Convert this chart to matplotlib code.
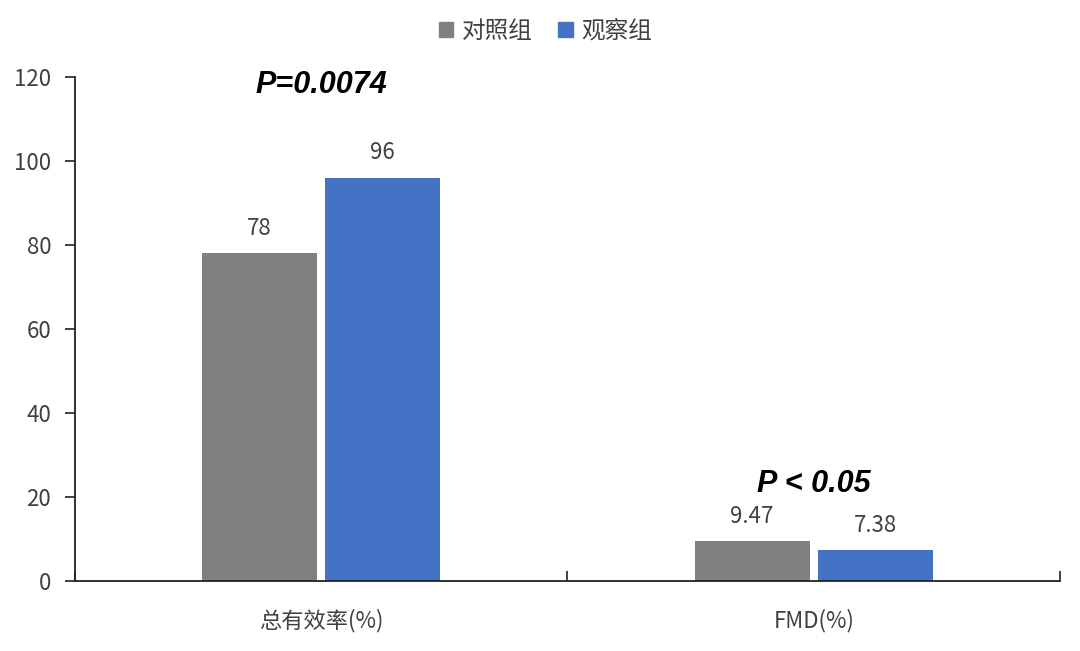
import numpy as np
import matplotlib
matplotlib.use("Agg")
import matplotlib.pyplot as plt
from matplotlib.patches import Patch

plt.rcParams['font.family'] = ['Noto Sans CJK SC', 'DejaVu Sans']

# データ
categories = ["总有效率(%)", "FMD(%)"]
series_names = ["对照组", "观察组"]
control_vals = [78, 9.47]
observe_vals = [96, 7.38]
value_text = [["78", "9.47"], ["96", "7.38"]]
p_texts = ["P=0.0074", "P < 0.05"]
p_heights = [116.2, 21.2]
y_ticks = [0, 20, 40, 60, 80, 100, 120]

colors = ["#808080", "#4472C4"]
text_color = "#404040"

fig = plt.figure(figsize=(10.8, 6.51), dpi=100)
ax = fig.add_axes([0.0694, 0.1075, 0.9121, 0.7742])

x = np.arange(len(categories))
w = 0.234
off = 0.125
for i, (vals, c) in enumerate(zip([control_vals, observe_vals], colors)):
    xs = x + (-off if i == 0 else off)
    ax.bar(xs, vals, width=w, color=c)
    for xi, v, t in zip(xs, vals, value_text[i]):
        ax.text(xi, v + 3.2, t, ha="center", va="bottom", fontsize=16, color=text_color)

for xi, t, h in zip(x, p_texts, p_heights):
    ax.text(xi, h, t, ha="center", va="baseline", fontsize=22, fontweight="bold",
            fontstyle="italic", family=["Liberation Sans", "DejaVu Sans"], color="black")

ax.set_xlim(-0.5, 1.5)
ax.set_ylim(0, 120)
ax.set_yticks(y_ticks)
ax.set_xticks(x)
ax.set_xticklabels(categories)
ax.set_xticks([-0.5, 0.5, 1.5], minor=True)

ax.tick_params(axis="y", labelsize=16, labelcolor=text_color, length=7, width=1.2,
               pad=10, color="#222222")
ax.tick_params(axis="x", which="major", length=0, labelsize=16, labelcolor=text_color, pad=20)
ax.tick_params(axis="x", which="minor", direction="in", length=7, width=1.2, color="#222222")

for s in ["top", "right"]:
    ax.spines[s].set_visible(False)
for s in ["left", "bottom"]:
    ax.spines[s].set_linewidth(1.3)
    ax.spines[s].set_color("#222222")

handles = [Patch(color=c, label=n) for c, n in zip(colors, series_names)]
fig.legend(handles=handles, loc="center", bbox_to_anchor=(0.505, 0.952), ncol=2,
           frameon=False, fontsize=17, labelcolor=text_color,
           handlelength=0.6, handleheight=0.6, handletextpad=0.35, columnspacing=1.1)

fig.savefig("out.png", dpi=100)
